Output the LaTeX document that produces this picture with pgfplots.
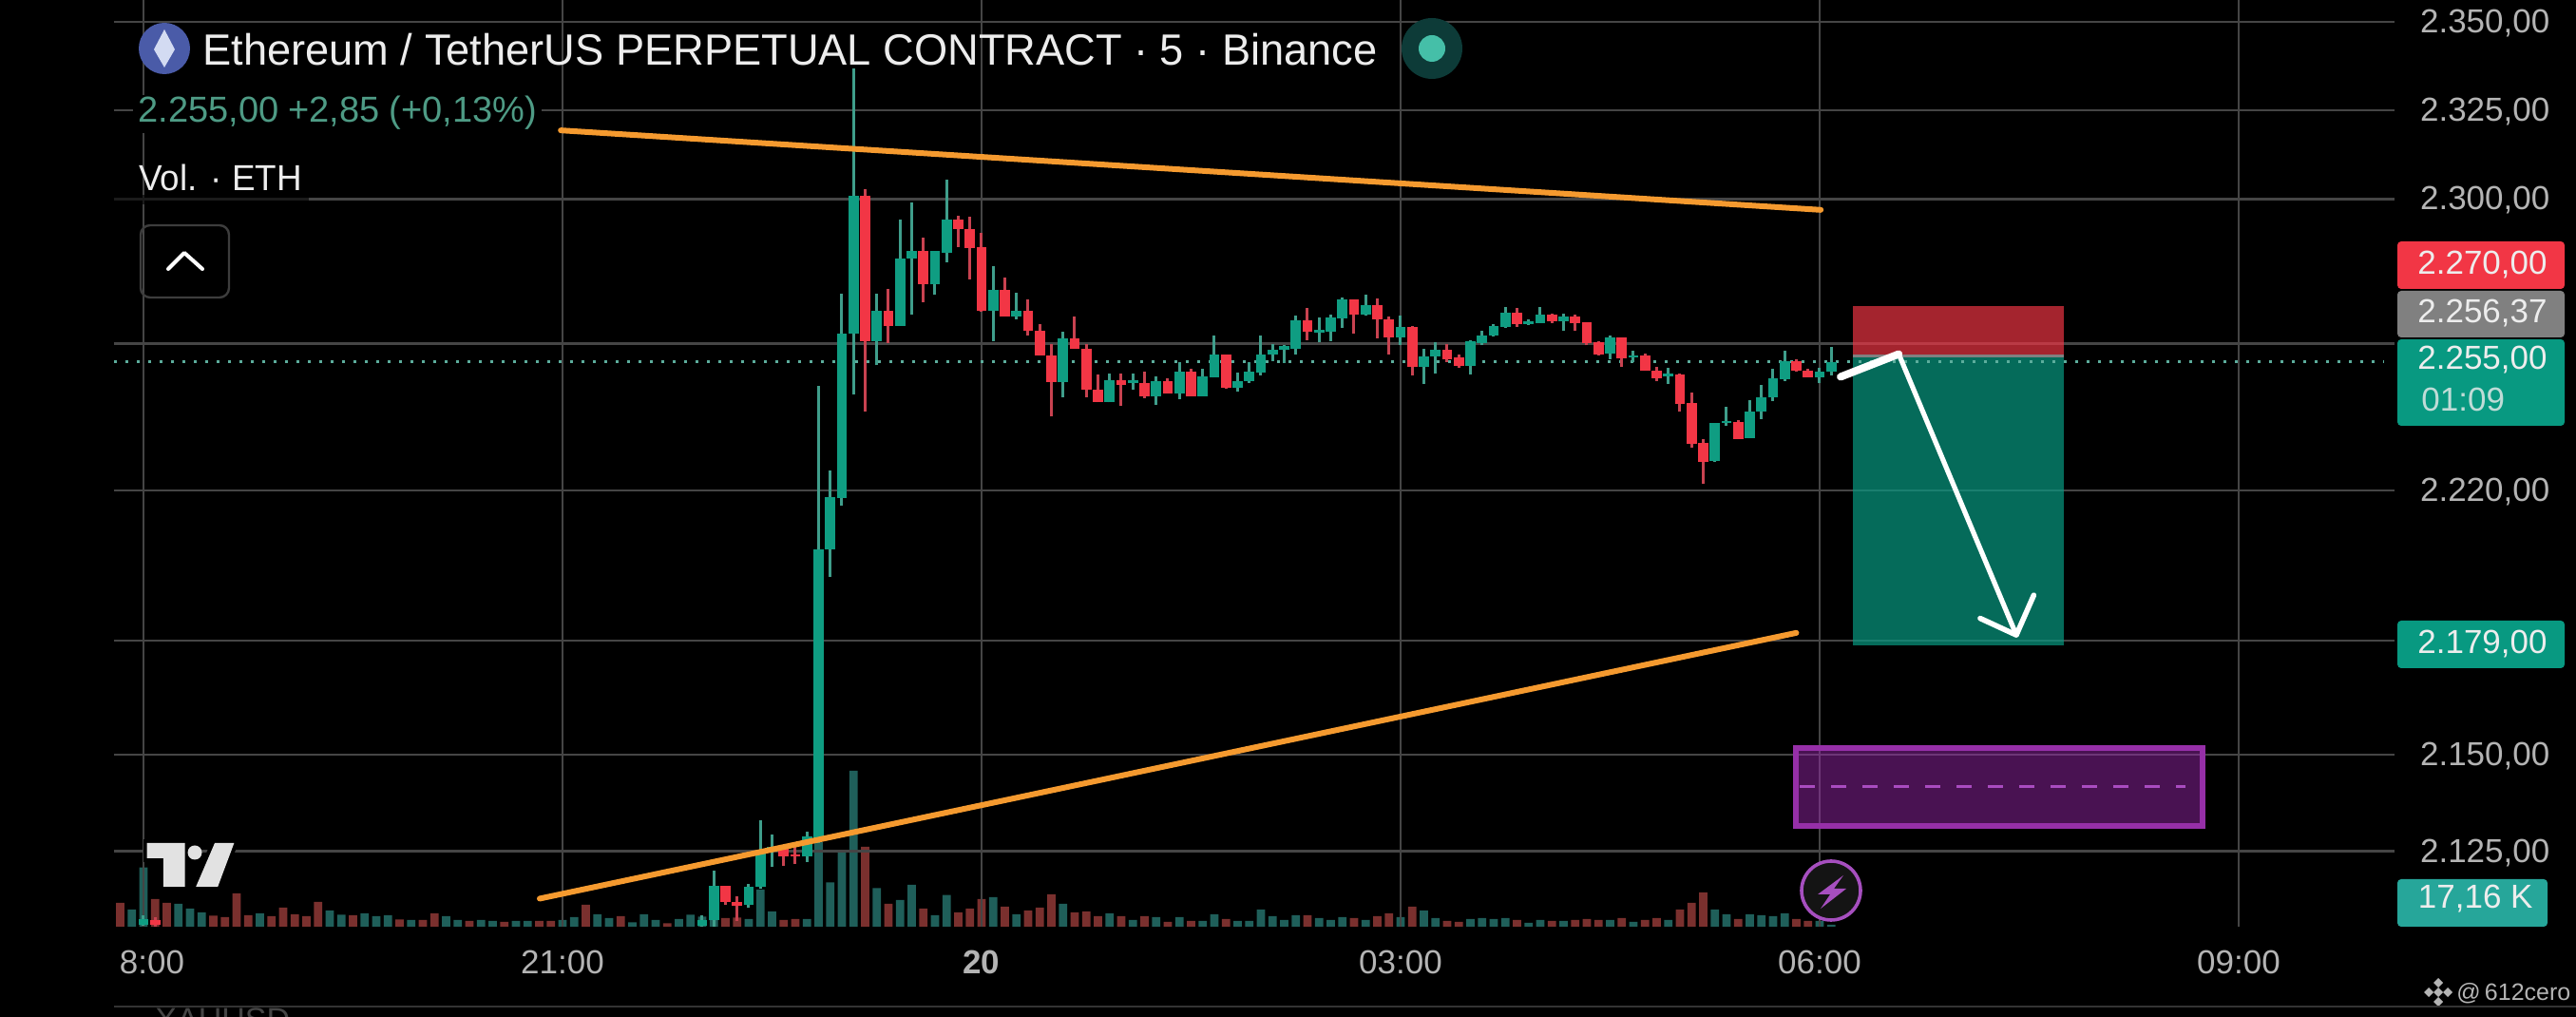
\documentclass[border=0pt]{standalone}
\usepackage{fontspec}
\setmainfont{Liberation Sans}
\usepackage{pgfplots}
\usepackage{pgfplotstable}
\pgfplotsset{compat=1.18}
\newcommand\fs[1]{\fontsize{#1}{#1}\selectfont}
\definecolor{upc}{HTML}{0F9D82}
\definecolor{upw}{HTML}{3F9E8B}
\definecolor{dnc}{HTML}{F23645}
\definecolor{dnw}{HTML}{C84250}
\definecolor{volg}{HTML}{1F5F5A}
\definecolor{volr}{HTML}{7A302E}
\definecolor{gridc}{HTML}{454545}
\definecolor{orng}{HTML}{F59A2F}
\definecolor{purp}{HTML}{962FA8}
\definecolor{purd}{HTML}{A94CC0}
\definecolor{purf}{HTML}{9C27B0}
\definecolor{tickc}{HTML}{B4B4B4}
\definecolor{pillg}{HTML}{089981}
\definecolor{pillt}{HTML}{26A69A}
\definecolor{pillgr}{HTML}{808080}
\definecolor{lbl}{HTML}{EDEDED}
\definecolor{legg}{HTML}{4E9B85}
\definecolor{ethc}{HTML}{4A5BA8}
\definecolor{ethd}{HTML}{D3DBF2}
\definecolor{dotd}{HTML}{0D3B38}
\definecolor{dotl}{HTML}{45BFA8}
\definecolor{btn}{HTML}{3D3D3D}
\definecolor{logoc}{HTML}{E2E2E2}
\definecolor{bolt}{HTML}{A64FBF}
\definecolor{strip}{HTML}{333333}
\pgfplotstableread{
x o h l c
-36 2106 2108.5 2105.8 2107.5
12 2105.8 2108.4 2105.6 2107.2
13 2107.2 2119.9 2105.6 2116.1
16 2111.1 2116.5 2110.5 2115.8
17 2115.8 2133 2115.4 2125
18 2124.8 2129.2 2120.9 2126
21 2123.6 2130 2122.1 2128.7
22 2128.2 2248.5 2127 2204.3
23 2204.3 2225.5 2197 2218.2
24 2218 2273.6 2216 2262.7
25 2262.7 2336.8 2246 2301
27 2260.7 2273.6 2254 2269
29 2264.9 2294.2 2264.9 2283.5
30 2283.5 2298.9 2267.9 2285.4
32 2276.2 2285.4 2273.3 2285.4
33 2285.1 2305.5 2282.4 2294.2
37 2269 2281.4 2260.6 2274.7
39 2267.5 2274 2266.8 2269
43 2249.5 2263.3 2245.4 2261.4
47 2244.1 2251.7 2243.9 2250
49 2249.3 2251.7 2247.5 2250.1
51 2245.6 2250.9 2243.3 2249.6
53 2246.3 2254.8 2244.8 2252.2
55 2245.6 2253 2245.6 2250.9
56 2250.8 2262.2 2250.6 2256.9
58 2248 2251.9 2246.9 2249.8
59 2249.7 2255 2249.3 2252.2
60 2251.9 2262.3 2251.3 2257.1
61 2257 2260 2255.2 2258.3
62 2258.3 2259.7 2254.7 2259.3
63 2258.4 2267.8 2257 2266.5
65 2263 2267.1 2260.3 2263.7
66 2263.2 2268 2260.6 2267.1
67 2267 2272.7 2264.3 2272
69 2268 2273.3 2267.7 2270.7
72 2261.6 2267.8 2259.7 2264.4
74 2253.5 2258.4 2248.9 2256.5
75 2256.4 2260.3 2251.7 2258.2
78 2253.8 2260.8 2251.5 2260.6
79 2260.2 2263.6 2259.5 2262.3
80 2262.2 2265.2 2261.9 2264.8
81 2264.5 2270 2264.2 2268.4
83 2265.4 2266.8 2265.1 2266
84 2265.7 2270 2265.6 2268
86 2266.1 2268.2 2263.5 2267.4
90 2257.3 2262.1 2255.6 2261.6
92 2256.1 2258 2254.8 2256.7
95 2251.1 2253.2 2248.9 2251.7
99 2227.9 2238.4 2227.8 2238.4
100 2238.3 2242.6 2237.6 2238.9
102 2234.1 2244.4 2234.1 2241.5
103 2241.3 2248.8 2239.4 2245.4
104 2245.3 2253 2244.3 2250.4
105 2250.2 2258 2249.8 2255.1
108 2250.8 2253.2 2249.1 2252.4
109 2252.4 2259 2251.2 2255
}\upcandles
\pgfplotstableread{
x o h l c
-35 2107.4 2108 2105.7 2106
14 2116.1 2116.1 2111.1 2112
15 2112 2113.4 2107 2110.9
19 2125.7 2125.8 2121.2 2123.8
20 2124.2 2126 2121.6 2123.6
26 2301 2302.8 2241.5 2260.7
28 2269 2274.9 2260.1 2264.9
31 2285.4 2289.2 2271.4 2276.2
34 2294.2 2295.4 2286.7 2291.5
35 2291.5 2295 2277.6 2286.3
36 2286.5 2290.5 2268.6 2269
38 2274.7 2278.1 2267.5 2267.5
40 2269 2272.1 2262.1 2263.4
41 2263.6 2265.3 2256.6 2256.6
42 2256.8 2259.9 2240 2249.5
44 2261.4 2267.4 2258.4 2258.4
45 2258.6 2259.9 2245.4 2247.3
46 2247.4 2251.6 2243.9 2244.1
48 2250 2251.7 2243 2248.8
50 2249.3 2252.2 2245.2 2245.5
52 2249.6 2250.4 2246.3 2246.3
54 2252.2 2253 2245.6 2245.6
57 2256.9 2257.1 2247.6 2248
64 2266.5 2269.7 2261 2263.2
68 2272 2272 2262.8 2268
70 2270.7 2272.3 2261.5 2266.7
71 2266.8 2267.5 2257 2261.6
73 2264.5 2264.7 2251.3 2253.5
76 2258.2 2259.9 2254.8 2255.8
77 2256.1 2257.1 2253.4 2253.8
82 2268.4 2269.7 2264.5 2265.2
85 2268 2268.1 2265.6 2266.1
87 2267.4 2268 2263.5 2265.5
88 2265.8 2265.8 2259.5 2260.2
89 2260.3 2260.6 2256.7 2257.1
91 2261.6 2261.6 2253.7 2256
93 2256.7 2257.3 2252.5 2252.6
94 2252.6 2253.7 2249.8 2250.4
96 2251.5 2251.7 2241.3 2243.5
97 2243.6 2246.7 2231.5 2232.7
98 2233 2234 2221.8 2227.8
101 2238.7 2239.2 2233.9 2234
106 2255.1 2255.6 2252.4 2252.6
107 2252.6 2253 2250.8 2250.8
}\downcandles
\pgfplotstableread{
x v
-37 54
-36 187
-33 72
-32 57
-31 45
-26 42
-20 51
-19 38
-17 42
-16 33
-15 36
-13 21
-10 33
-9 21
-7 21
-6 18
-4 18
-3 18
0 21
1 30
3 39
4 27
6 14
7 39
8 21
10 24
11 38
12 32
13 37
16 24
17 117
18 48
21 24
22 267
23 140
24 237
25 492
27 122
29 84
30 132
32 36
33 100
37 93
39 39
43 72
47 42
49 21
51 30
53 30
55 18
56 39
58 18
59 18
60 54
61 33
62 21
63 36
65 27
66 21
67 30
69 21
72 30
74 51
75 27
78 24
79 27
80 24
81 27
83 12
84 21
86 18
90 21
92 15
95 21
99 54
100 39
102 39
103 36
104 33
105 42
108 18
109 6
}\upvol
\pgfplotstableread{
x v
-38 75
-35 87
-34 75
-30 35
-29 30
-28 105
-27 36
-25 33
-24 60
-23 39
-22 33
-21 78
-18 36
-14 23
-12 21
-11 42
-8 18
-5 15
-2 18
-1 18
2 69
5 33
9 11
14 27
15 29
19 21
20 24
26 252
28 72
31 57
34 45
35 57
36 87
38 63
40 51
41 60
42 102
44 45
45 48
46 33
48 33
50 33
52 15
54 18
57 24
64 36
68 27
70 33
71 42
73 63
76 18
77 15
82 21
85 18
87 21
88 24
89 21
91 27
93 21
94 27
96 54
97 75
98 108
101 24
106 24
107 18
}\downvol
\pgfplotsset{frame/.style={scale only axis,width=1200pt,height=487.5pt,at={(60pt,47.5pt)},anchor=south west,
  xmin=-38.53,xmax=157.39,enlargelimits=false}}
\newcommand\wicks[2]{%
  \pgfplotstablegetrowsof{#1}\pgfmathtruncatemacro\lastrow{\pgfplotsretval-1}%
  \pgfplotsinvokeforeach{0,...,\lastrow}{%
    \pgfplotstablegetelem{##1}{x}\of{#1}\let\cx\pgfplotsretval
    \pgfplotstablegetelem{##1}{h}\of{#1}\let\ch\pgfplotsretval
    \pgfplotstablegetelem{##1}{l}\of{#1}\let\cl\pgfplotsretval
    \addplot[#2,line width=1.5pt,forget plot] coordinates {(\cx,\cl)(\cx,\ch)};
  }}
\newcommand\bodies[2]{%
  \pgfplotstablegetrowsof{#1}\pgfmathtruncatemacro\lastrow{\pgfplotsretval-1}%
  \pgfplotsinvokeforeach{0,...,\lastrow}{%
    \pgfplotstablegetelem{##1}{x}\of{#1}\let\cx\pgfplotsretval
    \pgfplotstablegetelem{##1}{o}\of{#1}\let\co\pgfplotsretval
    \pgfplotstablegetelem{##1}{c}\of{#1}\let\cc\pgfplotsretval
    \addplot[#2,line width=5.4pt,forget plot] coordinates {(\cx,\co)(\cx,\cc)};
  }}
\begin{document}
\begin{tikzpicture}
\path[use as bounding box] (0pt,0pt) rectangle (1355.5pt,535pt);
\clip (0pt,0pt) rectangle (1355.5pt,535pt);
\fill[black] (0pt,0pt) rectangle (1355.5pt,535pt);
% volume pane
\begin{axis}[frame,hide axis,ymin=0,ymax=2925,ybar,bar shift=0pt,bar width=4.3pt]
\addplot[fill=volg,draw=none] table[x=x,y=v] {\upvol};
\addplot[fill=volr,draw=none] table[x=x,y=v] {\downvol};
\end{axis}
% price pane, on the logarithmic scale of the chart
\begin{axis}[frame,
  y coord trafo/.code={\pgfmathparse{ln(#1)*1000}},
  y coord inv trafo/.code={\pgfmathparse{exp(#1/1000)}},
  ymin=2105.6,ymax=2356.24,
  axis line style={draw=none},major tick length=0pt,minor tick length=0pt,
  xmajorgrids,ymajorgrids,
  grid style={gridc,line width=1.1pt},
  xtick={-36,0,36,72,108,144},
  xticklabels={{\hspace{9pt}8:00},{21:00},{\textbf{20}},{03:00},{06:00},{09:00}},
  ytick={2125,2150,2180,2220,2260,2300,2325,2350},
  yticklabels={{2.125,00},{2.150,00},{},{2.220,00},{},{2.300,00},{2.325,00},{2.350,00}},
  yticklabel pos=right,
  ticklabel style={font=\fs{17.5},text=tickc},
  xticklabel style={yshift=-9pt},
  yticklabel style={anchor=west,xshift=10pt,yshift=-0.8pt}]
% position tool
\addplot[draw=none,fill=dnc,fill opacity=.68] coordinates {(110.9,2270.3)(129,2270.3)(129,2257)(110.9,2257)} -- cycle;
\addplot[draw=none,fill=pillgr] coordinates {(110.9,2257)(129,2257)(129,2256.3)(110.9,2256.3)} -- cycle;
\addplot[draw=none,fill=pillg,fill opacity=.7] coordinates {(110.9,2256.3)(129,2256.3)(129,2178.7)(110.9,2178.7)} -- cycle;
% purple zone
\addplot[draw=purp,line width=3pt,fill=purf,fill opacity=.47] coordinates {(106,2151.8)(140.9,2151.8)(140.9,2131.4)(106,2131.4)} -- cycle;
\addplot[draw=purd,line width=1.4pt,dash pattern=on 8pt off 8.5pt] coordinates {(106.3,2141.7)(139.4,2141.7)};
% last price line
\addplot[color=upw!85!white,line width=1.2pt,dash pattern=on 1.3pt off 4.7pt] coordinates {(-38.5,2255)(156.5,2255)};
% candles
\wicks{\upcandles}{upw}
\wicks{\downcandles}{dnw}
\bodies{\upcandles}{upc}
\bodies{\downcandles}{dnc}
% trend lines
\addplot[orng,line width=3pt,line cap=round] coordinates {(-0.15,2319.2)(108.1,2296.9)};
\addplot[orng,line width=3pt,line cap=round] coordinates {(-1.96,2112.8)(106,2182)};
% white arrow
\addplot[white,line width=4pt,line cap=round] coordinates {(109.8,2250.9)(114.8,2257.1)};
\addplot[white,line width=2.6pt,line cap=round,line join=round] coordinates {(114.8,2257.1)(124.9,2181.5)};
\addplot[white,line width=2.8pt,line cap=round,line join=round] coordinates {(121.8,2185.9)(124.9,2181.5)(126.4,2192)};
\end{axis}
% screen furniture, px from the top left
\begin{scope}[x=.5pt,y=-.5pt,shift={(0pt,535pt)}]
\fill[dnc,rounded corners=2pt] (2523,254) rectangle (2699,304);
\fill[pillgr,rounded corners=2pt] (2523,306) rectangle (2699,355);
\fill[pillg,rounded corners=2pt] (2523,357) rectangle (2699,448);
\fill[pillg,rounded corners=2pt] (2523,653) rectangle (2699,703);
\fill[pillt,rounded corners=2pt] (2523,925) rectangle (2681,975);
\tikzset{pl/.style={anchor=east,inner sep=0pt,text=lbl,font=\fs{17.5}}}
\node[pl] at (2681,279) {2.270,00};
\node[pl] at (2681,330) {2.256,37};
\node[pl] at (2681,379) {2.255,00};
\node[anchor=west,inner sep=0pt,text=lbl!80!pillg,font=\fs{17.5}] at (2548,420) {01:09};
\node[pl] at (2681,678) {2.179,00};
\node[pl] at (2666,946) {17,16 K};
% legend
\fill[black] (140,100) rectangle (570,140);
\fill[black,opacity=.6] (120,205) rectangle (325,215);
\fill[ethc] (173,51) circle (27);
\fill[ethd] (173,31) -- (184,52) -- (173,71) -- (162,52) -- cycle;
\node[anchor=west,inner sep=0pt,text=lbl,font=\fs{23}] at (213,52) {\scalebox{.983}[1]{Ethereum / TetherUS PERPETUAL CONTRACT · 5 · Binance}};
\fill[dotd] (1507,51) circle (32);
\fill[dotl] (1507,51) circle (14);
\node[anchor=west,inner sep=0pt,text=legg,font=\fs{19}] at (145,119) {2.255,00\hspace{5pt}+2,85 (+0,13\%)};
\node[anchor=west,inner sep=0pt,text=lbl,font=\fs{19}] at (146,187) {\scalebox{.97}[1]{Vol. · ETH}};
\draw[btn,line width=1.2pt,rounded corners=5pt] (148,237) rectangle (241,313);
\draw[white,line width=2pt,line join=round,line cap=round] (177,283) -- (194,266) -- (213,283);
% logo
\draw[black,line width=4pt] (154.5,887) -- (194.7,887) -- (194.7,933) -- (171.8,933) -- (171.8,903) -- (154.5,903) -- cycle;
\draw[black,line width=4pt] (226,887) -- (246.4,887) -- (229.2,933) -- (206.2,933) -- cycle;
\fill[logoc] (154.5,887) -- (194.7,887) -- (194.7,933) -- (171.8,933) -- (171.8,903) -- (154.5,903) -- cycle;
\fill[logoc] (205,897) circle (7.5);
\fill[logoc] (226,887) -- (246.4,887) -- (229.2,933) -- (206.2,933) -- cycle;
% lightning
\draw[bolt,line width=1.8pt,fill=black!92!white] (1927,937) circle (31);
\fill[bolt] (1940,921) -- (1913,941) -- (1926,941) -- (1916,956) -- (1943,935) -- (1930,935) -- cycle;
% watermark
\node[anchor=west,inner sep=0pt,text=tickc,font=\fs{12.5}] at (2585,1045) {@\,612cero};
\foreach \dx/\dy in {0/-10,0/10,-10/0,10/0,0/0}
  \fill[tickc] (2566+\dx,1044+\dy-5) -- (2566+\dx+5,1044+\dy) -- (2566+\dx,1044+\dy+5) -- (2566+\dx-5,1044+\dy) -- cycle;
% strip at the foot
\draw[strip,line width=1.2pt] (120,1059) -- (2711,1059);
\node[anchor=base west,inner sep=0pt,text=gridc,font=\fs{17}] at (163,1085) {XAUUSD};
\end{scope}
\end{tikzpicture}
\end{document}
